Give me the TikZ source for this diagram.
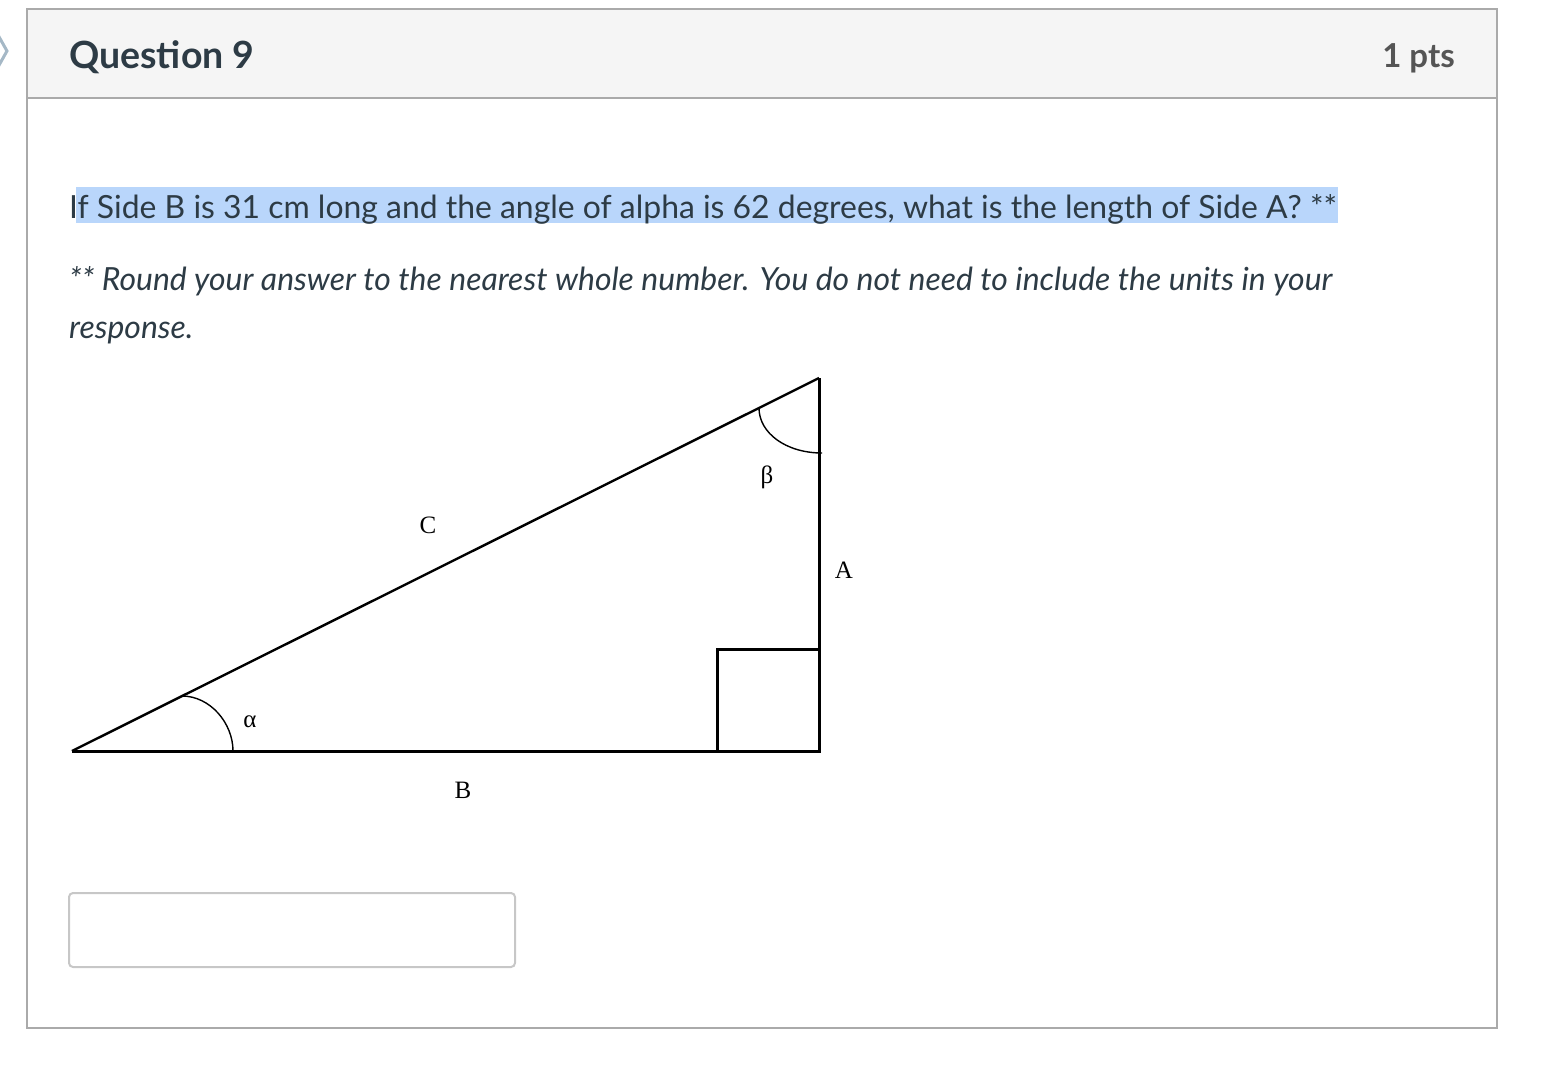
\documentclass[tikz,border=0pt]{standalone}
\usepackage{fontspec}
\setmainfont{Lato}
\newfontfamily\labelfont{Liberation Serif}
\usetikzlibrary{positioning}

\definecolor{canvastext}{HTML}{2D3B45}
\definecolor{headbg}{HTML}{F5F5F5}
\definecolor{cardline}{HTML}{AAAAAA}
\definecolor{ptsgray}{HTML}{555555}
\definecolor{selbg}{HTML}{B9D6FB}
\definecolor{boxline}{HTML}{C7C7C7}
\definecolor{chevron}{HTML}{A5B8C6}

\tikzset{
  head text/.style={anchor=base west, inner sep=0pt, text=canvastext, font=\bfseries\fontsize{37.5}{44}\selectfont},
  pts text/.style={anchor=base east, inner sep=0pt, text=ptsgray, font=\bfseries\fontsize{33}{38}\selectfont},
  body text/.style={anchor=base west, inner sep=0pt, text=canvastext, font=\fontsize{31.9}{38}\selectfont},
  note text/.style={body text, font=\itshape\fontsize{31.9}{38}\selectfont},
  side label/.style={inner sep=0pt, font=\labelfont\fontsize{25}{25}\selectfont},
  leg/.style={line width=3pt},
  hyp/.style={line width=2.4pt},
  angle arc/.style={line width=1.4pt},
  answer box/.style={draw=boxline, line width=2pt, rounded corners=4pt, minimum width=446pt, minimum height=74pt, inner sep=0pt}
}

\begin{document}
\begin{tikzpicture}[x=1pt, y=-1pt]
\useasboundingbox (0,0) rectangle (1546,1066);

% question card
\fill[headbg] (27,9) rectangle (1497,98);
\draw[cardline, line width=2pt] (27,9) rectangle (1497,1028);
\draw[cardline, line width=2pt] (27,98) -- (1497,98);
\draw[chevron, line width=3pt] (-2,35) -- (7,51) -- (-2,67);

\node[head text] (title) at (69,68) {Question 9};
\node[pts text] (points) at (1455,67) {1 pts};

% question text
\fill[selbg] (76,187) rectangle (1338,223);
\node[body text] (question) at (69,218) {If Side B is 31 cm long and the angle of alpha is 62 degrees, what is the length of Side A? **};
\node[note text] (note-1) at (69,290) {** Round your answer to the nearest whole number. You do not need to include the units in your};
\node[note text] (note-2) at (69,338) {response.};

% triangle
\coordinate (alpha) at (72,751);
\coordinate (right) at (819,751);
\coordinate (beta) at (819,378);
\draw[hyp] (alpha) -- (beta);
\draw[leg] (alpha) -- (right) -- (beta);
\draw[leg] (717,751) -- (717,649) -- (819,649);

\draw[angle arc] (182,696) .. controls (210,696) and (233,723) .. (233,751);
\draw[angle arc] (759,408) .. controls (759,433) and (786,453) .. (822,453);

\foreach \n/\x/\y in {C/428/525, A/844/570, B/463/790}
  \node[side label] (label-\n) at (\x,\y) {\n};
\node[side label] (label-alpha) at (250,722) {α};
\node[side label] (label-beta) at (767,477) {β};

% answer field
\node[answer box] (answer) at (292,930) {};

\end{tikzpicture}
\end{document}
